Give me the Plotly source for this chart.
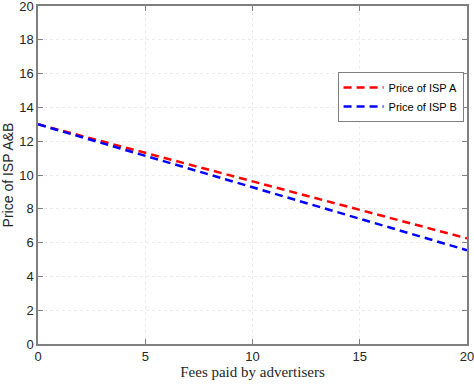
import plotly.graph_objects as go

fees = [0, 20]
price_a = [13.0, 6.25]
price_b = [13.0, 5.55]
series_names = ["Price of ISP A", "Price of ISP B"]
tick_vals_x = [0, 5, 10, 15, 20]
tick_vals_y = [0, 2, 4, 6, 8, 10, 12, 14, 16, 18, 20]

fig = go.Figure()
fig.add_trace(go.Scatter(x=fees, y=price_a, mode="lines", name=series_names[0],
                         line=dict(color="#ff0000", width=2.5, dash="8px,5px")))
fig.add_trace(go.Scatter(x=fees, y=price_b, mode="lines", name=series_names[1],
                         line=dict(color="#0000ff", width=2.5, dash="8px,5px")))

axis_common = dict(showline=True, linecolor="#7f7f7f", linewidth=1.5, mirror="ticks",
                   ticks="inside", ticklen=5, tickcolor="#7f7f7f",
                   showgrid=True, gridcolor="#ececec", griddash="dot", gridwidth=1,
                   zeroline=False, automargin=False, ticklabeloverflow="allow",
                   tickfont=dict(family="Liberation Sans", size=13, color="#262626"))

fig.update_layout(
    width=474, height=384,
    margin=dict(l=38, r=7, t=6, b=40),
    plot_bgcolor="white", paper_bgcolor="white",
    xaxis=dict(range=[0, 20], tickvals=tick_vals_x,
               title=dict(text="Fees paid by advertisers", standoff=3,
                          font=dict(family="Liberation Serif", size=15, color="#262626")),
               **axis_common),
    yaxis=dict(range=[0, 20], tickvals=tick_vals_y,
               title=dict(text="Price of ISP A&B", standoff=4,
                          font=dict(family="Liberation Sans", size=14, color="#262626")),
               **axis_common),
    legend=dict(x=0.992, xanchor="right", y=0.805, yanchor="top",
                bgcolor="white", bordercolor="#7f7f7f", borderwidth=1,
                font=dict(family="Liberation Sans", size=11, color="#000000"),
                tracegroupgap=0, itemwidth=40),
    showlegend=True,
)

fig.write_html("out.html", config={"displayModeBar": False},
               post_script="document.body.style.margin='0';document.body.style.overflow='hidden';")
